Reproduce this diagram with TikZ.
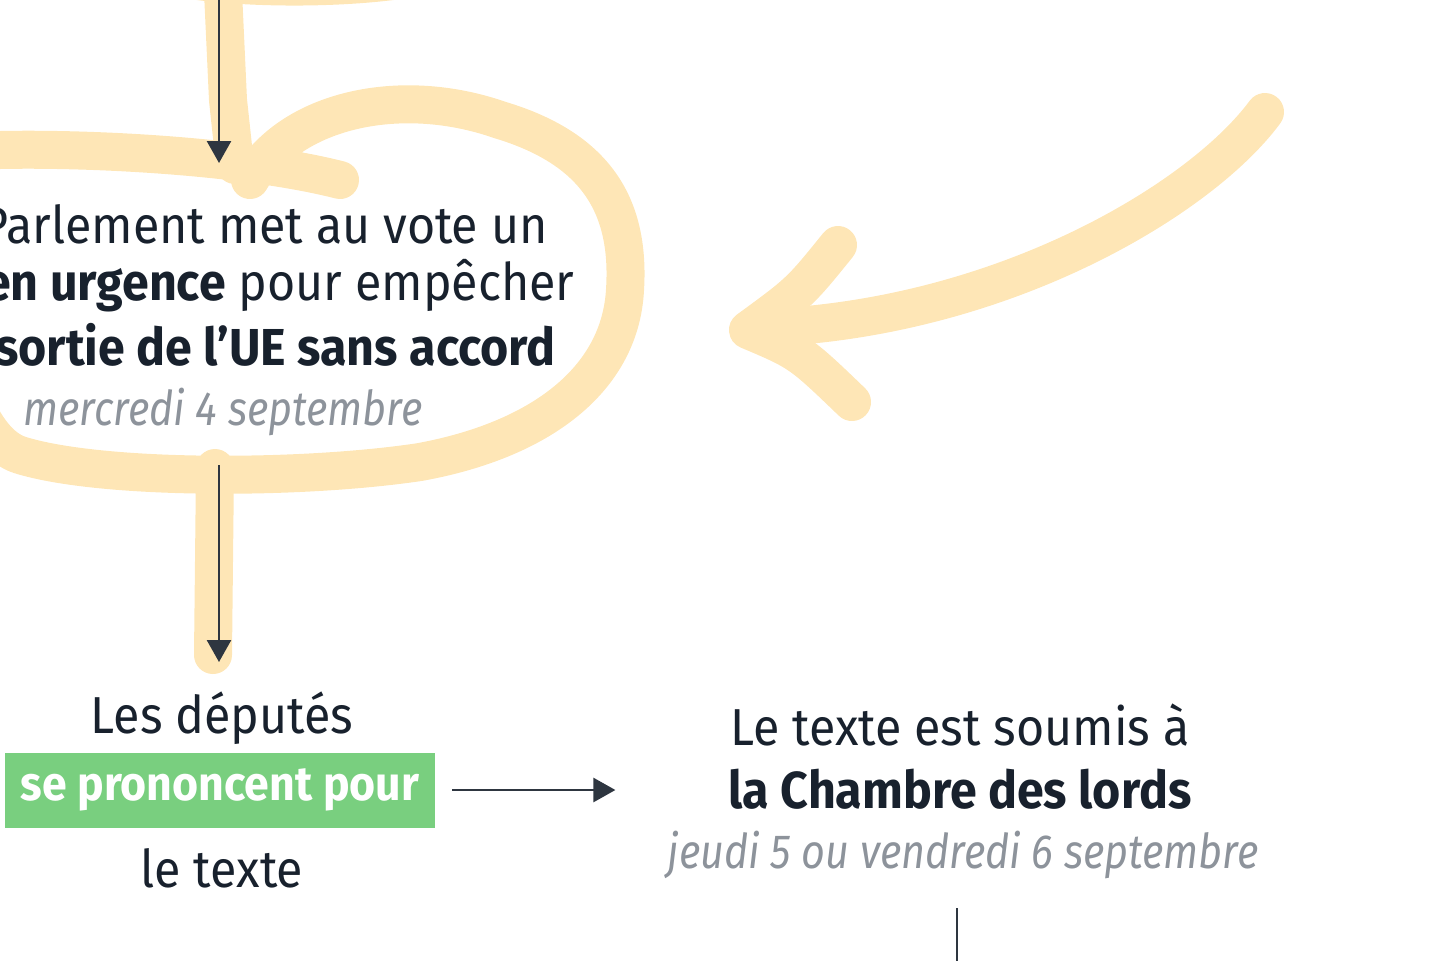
\documentclass[tikz,border=0pt]{standalone}
\usepackage{fontspec}
\setmainfont{Fira Sans}[FakeStretch=0.93]
\newfontfamily\datefont{Fira Sans}[FakeStretch=0.86]
\usetikzlibrary{arrows.meta, positioning}
\definecolor{ink}{HTML}{18212D}
\definecolor{hl}{HTML}{FEE6B6}
\definecolor{datecol}{HTML}{8D939B}
\definecolor{votegreen}{HTML}{79CF7F}
\definecolor{tipcol}{HTML}{2E3640}

\begin{document}
\begin{tikzpicture}[
    x=0.5pt, y=-0.5pt,
    scribble/.style={draw=hl, line width=19pt, line cap=round, line join=round},
    flow/.style={draw=tipcol, line width=1.3pt, -{Triangle[length=11pt, width=12pt]}},
    txt/.style={text=ink, font=\fontsize{26}{31}\selectfont, inner sep=0pt},
    day/.style={text=datecol, font=\datefont\fontsize{24}{29}\selectfont\itshape, inner sep=0pt}
  ]
  \useasboundingbox (0,0) rectangle (1440,960);

  \draw[scribble] (140,-32) .. controls (200,-8) and (370,-8) .. (440,-28);
  \draw[scribble] (222,-30) -- (228,100) -- (235,165);
  \draw[scribble] (250,180) .. controls (290,110) and (400,85) .. (500,120)
    .. controls (600,150) and (630,210) .. (625,290)
    .. controls (620,380) and (540,440) .. (420,462)
    .. controls (300,480) and (100,480) .. (20,455)
    .. controls (-60,430) and (-80,150) .. (0,150)
    .. controls (100,148) and (250,157) .. (340,180);
  \draw[scribble] (215,468) -- (213,655);
  \draw[scribble] (1265,112) .. controls (1200,200) and (1000,320) .. (760,328);
  \draw[scribble] (838,245) .. controls (800,292) .. (748,330)
    .. controls (800,352) .. (852,402);

  \node[txt, anchor=base east] (vote1) at (548,243) {Parlement met au vote un};
  \node[txt, anchor=base east] (vote2) at (575,300) {\textbf{en urgence} pour empêcher};
  \node[txt, anchor=base east] (vote3) at (556,365) {\textbf{sortie de l’UE sans accord}};
  \node[day, anchor=base] (mer) at (223,425) {mercredi 4 septembre};

  \node[txt, anchor=base] (dep) at (222,733) {Les députés};
  \node[fill=votegreen, text=white, font=\fontsize{24}{29}\selectfont\bfseries,
    minimum width=215pt, minimum height=37.5pt, inner sep=0pt] (pour) at (220,790) {se prononcent pour};
  \node[txt, anchor=base] (letexte) at (222,887) {le texte};

  \node[txt, anchor=base] (soumis) at (960,745) {Le texte est soumis à};
  \node[txt, anchor=base] (lords) at (960,808) {\textbf{la Chambre des lords}};
  \node[day, anchor=base] (jeu) at (963,868) {jeudi 5 ou vendredi 6 septembre};

  \coordinate (in1) at (219,-5);
  \coordinate (in2) at (219,163);
  \coordinate (out1) at (219,465);
  \coordinate (out2) at (219,662);
  \coordinate (down1) at (957,908);
  \coordinate (down2) at (957,965);

  \draw[flow] (in1) -- (in2);
  \draw[flow] (out1) -- (out2);
  \draw[flow] ([xshift=8.5pt]pour.east) -- ([xshift=90pt]pour.east);
  \draw[draw=tipcol, line width=1.2pt] (down1) -- (down2);

\end{tikzpicture}
\end{document}
